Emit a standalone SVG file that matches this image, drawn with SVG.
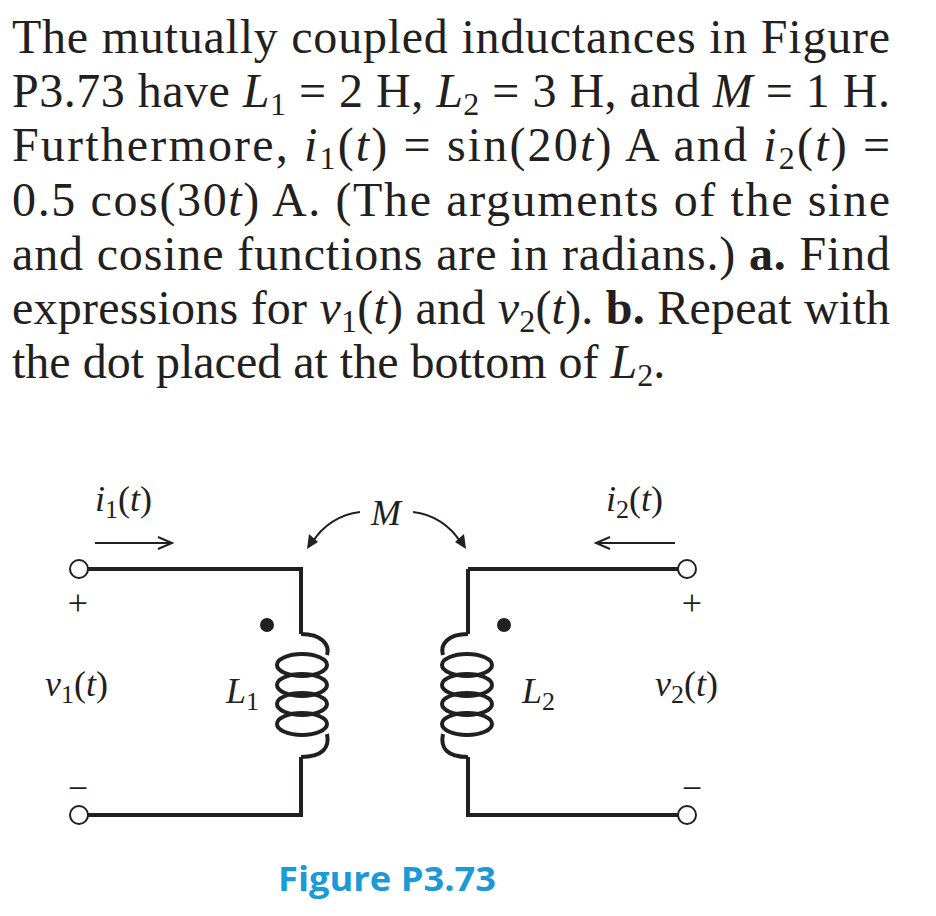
<svg xmlns="http://www.w3.org/2000/svg" width="936" height="916" viewBox="0 0 936 916">
<style>
.t{font-family:"Liberation Serif",serif;font-size:48px;fill:#231f20}
.i{font-style:italic}
.s{font-size:32px}
.l{font-family:"Liberation Serif",serif;font-size:36px;fill:#231f20;font-style:italic}
.p{font-family:"Liberation Serif",serif;font-size:36px;fill:#231f20}
.w{fill:none;stroke:#231f20;stroke-width:4}
.a{fill:none;stroke:#231f20;stroke-width:2}
</style>
<rect width="936" height="916" fill="#fff"/>
<g id="problem">
<text class="t" x="12" y="53" textLength="878" lengthAdjust="spacing">The mutually coupled inductances in Figure</text>
<text class="t" x="12" y="107" textLength="878" lengthAdjust="spacing">P3.73 have <tspan class="i">L</tspan><tspan class="s" dy="8">1</tspan><tspan dy="-8"> = 2 H, </tspan><tspan class="i">L</tspan><tspan class="s" dy="8">2</tspan><tspan dy="-8"> = 3 H, and </tspan><tspan class="i">M</tspan> = 1 H.</text>
<text class="t" x="12" y="161" textLength="878" lengthAdjust="spacing">Furthermore, <tspan class="i">i</tspan><tspan class="s" dy="8">1</tspan><tspan dy="-8">(</tspan><tspan class="i">t</tspan>) = sin(20<tspan class="i">t</tspan>) A and <tspan class="i">i</tspan><tspan class="s" dy="8">2</tspan><tspan dy="-8">(</tspan><tspan class="i">t</tspan>) =</text>
<text class="t" x="12" y="216" textLength="878" lengthAdjust="spacing">0.5 cos(30<tspan class="i">t</tspan>) A. (The arguments of the sine</text>
<text class="t" x="12" y="270" textLength="878" lengthAdjust="spacing">and cosine functions are in radians.) <tspan font-weight="bold">a.</tspan> Find</text>
<text class="t" x="12" y="324" textLength="878" lengthAdjust="spacing">expressions for <tspan class="i">v</tspan><tspan class="s" dy="8">1</tspan><tspan dy="-8">(</tspan><tspan class="i">t</tspan>) and <tspan class="i">v</tspan><tspan class="s" dy="8">2</tspan><tspan dy="-8">(</tspan><tspan class="i">t</tspan>). <tspan font-weight="bold">b.</tspan> Repeat with</text>
<text class="t" x="12" y="378">the dot placed at the bottom of <tspan class="i">L</tspan><tspan class="s" dy="8">2</tspan><tspan dy="-8">.</tspan></text>
</g>
<g id="connectors">
<path class="w" d="M88,569 H301 V634 M301,757 V815 H88"/>
<path class="w" d="M301,634 C322,634 330,645 327,655"/>
<path class="w" d="M327,734 C330,748 322,757 301,757"/>
<path class="w" d="M468,569 H678 M468,569 V634 M468,757 V815 H678"/>
<path class="w" d="M468,634 C447,634 440,645 443,655"/>
<path class="w" d="M443,734 C440,748 447,757 468,757"/>
<path class="a" d="M95,543 H170 M158,537 L172,543 L158,549"/>
<path class="a" d="M675,543 H598 M610,537 L596,543 L610,549"/>
<path class="a" d="M360,512 C340,514 322,526 312,543"/>
<path d="M307,549 L309,534 L318,542 Z" fill="#231f20"/>
<path class="a" d="M413,512 C433,514 451,526 461,543"/>
<path d="M466,549 L455,542 L464,534 Z" fill="#231f20"/>
</g>
<g id="L1">
<ellipse class="w" cx="302" cy="665" rx="25" ry="11"/>
<ellipse class="w" cx="302" cy="685" rx="25" ry="11"/>
<ellipse class="w" cx="302" cy="704" rx="25" ry="11"/>
<ellipse class="w" cx="302" cy="724" rx="25" ry="11"/>
<circle cx="267" cy="625" r="7" fill="#231f20"/>
<text class="l" x="226" y="703">L<tspan font-style="normal" font-size="26" dy="7">1</tspan></text>
</g>
<g id="L2">
<ellipse class="w" cx="467" cy="665" rx="25" ry="11"/>
<ellipse class="w" cx="467" cy="685" rx="25" ry="11"/>
<ellipse class="w" cx="467" cy="704" rx="25" ry="11"/>
<ellipse class="w" cx="467" cy="724" rx="25" ry="11"/>
<circle cx="504" cy="625" r="7" fill="#231f20"/>
<text class="l" x="522" y="703">L<tspan font-style="normal" font-size="26" dy="7">2</tspan></text>
</g>
<g id="port1">
<circle cx="79" cy="569" r="9" fill="#fff" stroke="#231f20" stroke-width="2"/>
<circle cx="79" cy="815" r="9" fill="#fff" stroke="#231f20" stroke-width="2"/>
<text class="l" x="95" y="511">i<tspan font-style="normal" font-size="26" dy="7">1</tspan><tspan font-style="normal" dy="-7">(</tspan>t<tspan font-style="normal">)</tspan></text>
<text class="p" x="78" y="615" text-anchor="middle">+</text>
<text class="p" x="78" y="800" text-anchor="middle">−</text>
<text class="l" x="45" y="696">v<tspan font-style="normal" font-size="26" dy="7">1</tspan><tspan font-style="normal" dy="-7">(</tspan>t<tspan font-style="normal">)</tspan></text>
</g>
<g id="port2">
<circle cx="687" cy="569" r="9" fill="#fff" stroke="#231f20" stroke-width="2"/>
<circle cx="687" cy="815" r="9" fill="#fff" stroke="#231f20" stroke-width="2"/>
<text class="l" x="606" y="511">i<tspan font-style="normal" font-size="26" dy="7">2</tspan><tspan font-style="normal" dy="-7">(</tspan>t<tspan font-style="normal">)</tspan></text>
<text class="p" x="692" y="615" text-anchor="middle">+</text>
<text class="p" x="692" y="800" text-anchor="middle">−</text>
<text class="l" x="655" y="696">v<tspan font-style="normal" font-size="26" dy="7">2</tspan><tspan font-style="normal" dy="-7">(</tspan>t<tspan font-style="normal">)</tspan></text>
</g>
<g id="M">
<text class="l" x="386" y="525" text-anchor="middle">M</text>
</g>
<g id="caption">
<text x="387" y="891" text-anchor="middle" font-family="'Open Sans',sans-serif" font-weight="bold" font-size="34" fill="#1b9ad6" textLength="218" lengthAdjust="spacingAndGlyphs">Figure P3.73</text>
</g>
</svg>
